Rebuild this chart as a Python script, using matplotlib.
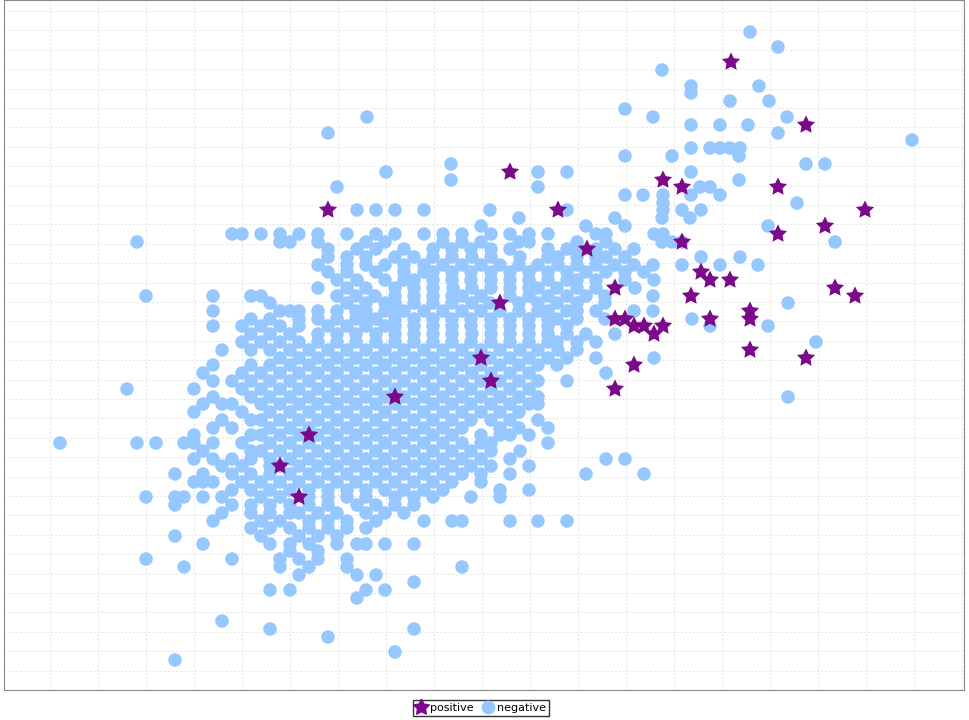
import numpy as np
import matplotlib.pyplot as plt
from matplotlib.lines import Line2D

# negative points: rows keyed by y value, each with its x values (screen units)
NEG_ROWS = {
    32: [750], 47: [778], 70: [662], 86: [759, 691], 93: [691], 101: [730, 769],
    109: [625], 117: [653, 787, 367], 125: [691, 720, 748], 133: [328, 778],
    140: [912], 148: [691, 710, 720, 730, 740], 156: [625, 672, 739],
    164: [451, 806, 825], 172: [386, 538, 567, 691], 180: [451, 739],
    187: [337, 538, 700, 710], 195: [625, 643, 663, 691, 720], 203: [797, 663],
    210: [357, 376, 395, 424, 490, 567, 682, 701, 663], 218: [519, 615, 662, 690],
    226: [481, 586, 625, 768],
    234: [232, 242, 261, 280, 299, 318, 347, 376, 395, 424, 443, 462, 491, 510, 529, 548, 596, 606, 654, 663],
    242: [137, 280, 290, 318, 366, 385, 443, 462, 481, 519, 529, 577, 606, 662, 672, 682, 835],
    249: [328, 357, 376, 404, 433, 452, 471, 491, 510, 548, 567, 577, 596, 615, 634],
    257: [328, 347, 366, 395, 414, 433, 452, 472, 491, 520, 548, 558, 577, 596, 606, 625, 701, 740],
    265: [318, 347, 366, 385, 404, 424, 443, 462, 481, 500, 519, 538, 558, 577, 596, 615, 634, 653, 682, 720, 758],
    272: [328, 347, 376, 404, 424, 433, 452, 471, 491, 510, 529, 548, 567, 586, 606, 625, 644],
    280: [337, 357, 385, 404, 414, 433, 452, 471, 491, 510, 529, 548, 567, 577, 596, 625, 654],
    288: [318, 347, 366, 395, 414, 433, 453, 472, 491, 510, 529, 538, 557, 577, 596, 635],
    296: [146, 213, 251, 261, 337, 356, 375, 395, 414, 433, 452, 462, 481, 510, 529, 548, 567, 586, 605, 653],
    303: [270, 347, 366, 385, 395, 414, 433, 452, 472, 490, 519, 538, 557, 577, 605, 788],
    311: [213, 280, 290, 299, 318, 337, 356, 366, 385, 395, 404, 424, 443, 462, 481, 500, 519, 538, 548, 567, 577, 596, 634, 653],
    319: [251, 270, 299, 318, 337, 356, 366, 376, 395, 414, 433, 452, 471, 491, 510, 529, 548, 557, 577, 605, 692],
    326: [213, 242, 261, 280, 299, 328, 347, 366, 385, 395, 414, 433, 452, 471, 491, 510, 529, 548, 567, 710, 768],
    334: [251, 270, 290, 318, 337, 356, 376, 395, 414, 433, 452, 472, 491, 510, 529, 548, 567, 586, 615],
    342: [242, 261, 280, 299, 318, 337, 356, 376, 395, 414, 433, 452, 471, 491, 510, 529, 548, 557, 577, 596, 816],
    350: [222, 251, 270, 290, 309, 328, 347, 366, 385, 404, 424, 443, 462, 481, 500, 520, 538, 558, 577],
    358: [280, 299, 318, 337, 356, 376, 395, 414, 433, 452, 471, 490, 510, 529, 548, 567, 596, 654],
    365: [213, 251, 270, 290, 309, 328, 347, 366, 385, 404, 424, 443, 462, 481, 500, 519, 538, 557],
    373: [203, 242, 261, 280, 299, 318, 337, 356, 376, 395, 414, 433, 452, 472, 491, 510, 529, 606],
    381: [213, 232, 251, 270, 290, 309, 328, 347, 366, 385, 404, 424, 443, 462, 481, 500, 519, 538, 567],
    389: [127, 194, 242, 261, 280, 299, 318, 337, 356, 376, 395, 414, 433, 452, 471, 491, 510, 529],
    397: [213, 251, 270, 290, 309, 328, 347, 366, 385, 404, 424, 443, 462, 481, 500, 519, 538, 788],
    404: [203, 222, 232, 261, 280, 299, 318, 337, 356, 376, 395, 414, 433, 452, 471, 491, 510, 529, 538],
    412: [194, 242, 270, 290, 309, 328, 347, 366, 385, 404, 424, 443, 462, 481, 500, 519],
    420: [222, 251, 261, 280, 299, 318, 337, 356, 376, 395, 414, 433, 452, 471, 491, 510, 538],
    428: [213, 232, 270, 290, 309, 328, 347, 366, 385, 404, 424, 443, 462, 500, 519, 548],
    435: [194, 251, 261, 280, 299, 318, 337, 356, 376, 395, 414, 433, 452, 481, 500, 510, 529],
    443: [60, 137, 156, 184, 194, 213, 242, 270, 290, 309, 328, 347, 366, 385, 404, 424, 443, 462, 481, 491, 548],
    451: [203, 251, 261, 280, 299, 318, 337, 356, 376, 395, 414, 433, 452, 471, 491, 520],
    459: [194, 213, 232, 251, 270, 290, 309, 328, 347, 366, 385, 404, 424, 443, 462, 481, 510, 606, 625],
    466: [222, 242, 270, 280, 299, 318, 337, 356, 376, 395, 414, 433, 452, 471, 491, 529],
    474: [175, 203, 232, 251, 270, 290, 309, 328, 347, 366, 385, 404, 424, 443, 462, 481, 510, 586, 644],
    482: [194, 203, 213, 242, 261, 280, 299, 318, 337, 356, 376, 395, 414, 433, 452, 481],
    490: [232, 251, 270, 290, 309, 328, 347, 366, 385, 404, 424, 443, 500, 529],
    497: [146, 175, 184, 203, 222, 261, 280, 309, 328, 347, 366, 395, 414, 433, 471, 500],
    505: [175, 232, 251, 270, 290, 309, 328, 357, 376, 395, 414],
    513: [222, 251, 270, 290, 299, 318, 337, 366, 385, 404],
    521: [213, 261, 280, 309, 328, 347, 376, 424, 452, 462, 510, 538, 567],
    528: [251, 270, 290, 309, 328, 347, 366],
    536: [175, 261, 299, 318, 337],
    544: [203, 270, 290, 309, 337, 357, 366, 385, 414],
    551: [290, 318],
    559: [146, 232, 280, 299, 318, 347],
    567: [184, 280, 309, 347, 462],
    575: [299, 357, 376], 582: [414], 590: [270, 290, 366, 385], 598: [357],
    621: [222], 629: [270, 414], 637: [328], 652: [395], 660: [175],
}

POS_X = [731, 806, 510, 663, 682, 778, 328, 558, 865, 825, 682, 778, 587, 701, 710, 730, 835, 615, 691, 855,
         500, 615, 625, 634, 644, 663, 654, 710, 750, 750, 750, 806, 481, 634, 491, 615, 395, 309, 280, 299]
POS_Y = [62, 125, 172, 180, 187, 187, 210, 210, 210, 226, 242, 234, 249, 272, 280, 280, 288, 288, 296, 296,
         303, 319, 319, 326, 326, 326, 334, 319, 311, 319, 350, 358, 358, 365, 381, 389, 397, 435, 466, 497]

BLUE = "#96c8ff"
PURPLE = "#7a0a8a"

neg_x = [x for y, xs in NEG_ROWS.items() for x in xs]
neg_y = [y for y, xs in NEG_ROWS.items() for x in xs]

fig = plt.figure(figsize=(9.69, 7.2), dpi=100)
ax = fig.add_axes([4 / 969, 30 / 720, 960 / 969, 690 / 720])
ax.set_xlim(4, 964)
ax.set_ylim(690, 0)
ax.set_xticks(np.arange(50, 964, 48))
ax.set_yticks(np.arange(690, 0, -19.4))
ax.grid(True, color="#e4e4e4", linestyle=(0, (2, 2)), linewidth=0.7)
ax.tick_params(length=0, labelbottom=False, labelleft=False)
ax.set_axisbelow(True)
for s in ax.spines.values():
    s.set_color("#888888")
    s.set_linewidth(0.8)

ax.scatter(neg_x, neg_y, s=95, color=BLUE, edgecolors="none", zorder=2)
ax.scatter(POS_X, POS_Y, s=190, marker=(5, 1), color=PURPLE, edgecolors="none", zorder=3)

handles = [Line2D([], [], marker=(5, 1), color=PURPLE, linestyle="none", markersize=12, label="positive"),
           Line2D([], [], marker="o", color=BLUE, linestyle="none", markersize=9, label="negative")]
fig.legend(handles=handles, loc="center", bbox_to_anchor=(481 / 969, 1 - 708 / 720), ncol=2,
           frameon=True, fancybox=False, edgecolor="black", fontsize=8, handletextpad=0.3,
           columnspacing=0.8, borderpad=0.25, handlelength=1.0)

fig.savefig("out.png", dpi=100)
